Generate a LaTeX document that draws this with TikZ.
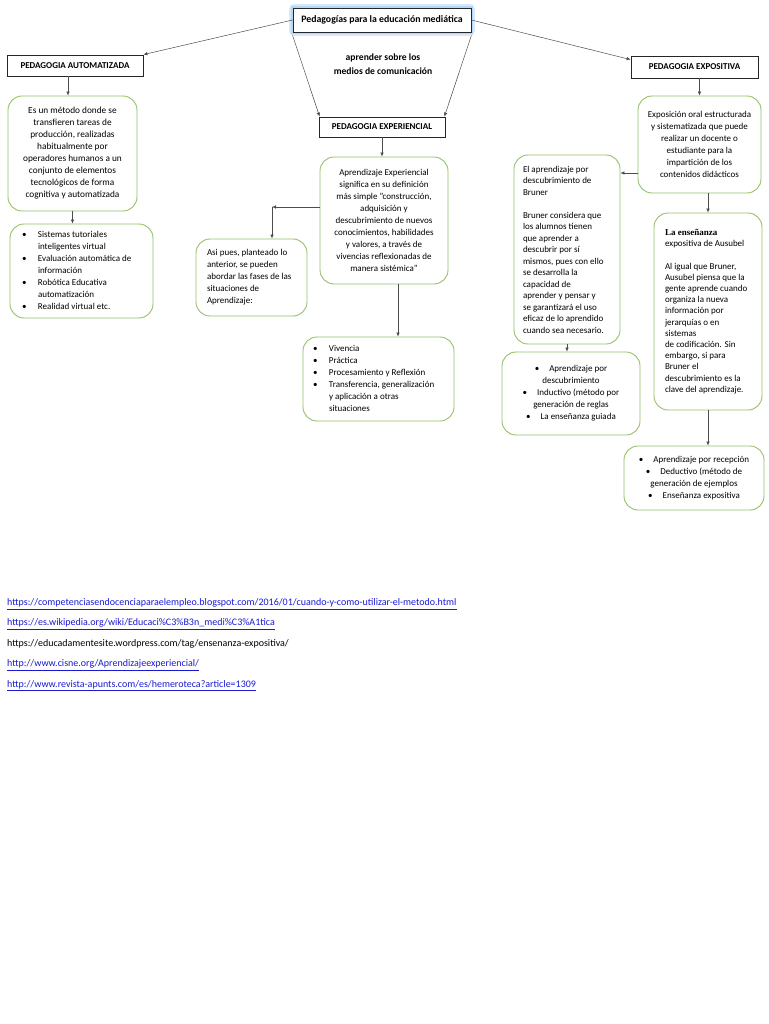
\documentclass[tikz,border=0pt]{standalone}
\usepackage{fontspec}
\setmainfont{Carlito}
\newfontfamily\serifb{Liberation Serif}
\usetikzlibrary{arrows.meta,backgrounds}
\definecolor{gborder}{RGB}{150,192,105}
\definecolor{linkblue}{RGB}{25,25,210}
\definecolor{glow}{RGB}{150,200,245}
\begin{document}
\begin{tikzpicture}[x=1pt,y=-1pt,
  gbox/.style={draw=gborder, line width=0.9pt, rounded corners=14pt, fill=white, inner sep=0pt, font=\fontsize{9}{12}\selectfont},
  hbox/.style={draw=black!85, line width=0.8pt, fill=white, inner sep=0pt, font=\bfseries\fontsize{9}{11}\selectfont},
  arr/.style={draw=black!70, line width=0.5pt, -{Latex[length=4pt,width=3.5pt]}},
  link/.style={anchor=west, inner sep=0pt, font=\fontsize{10}{12}\selectfont}]
\useasboundingbox (0,0) rectangle (768,1024);
% header boxes
\node[hbox, minimum width=178pt, minimum height=24pt, font=\bfseries\fontsize{9.8}{11}\selectfont] (title) at (382,20) {Pedagogías para la educación mediática};
\begin{scope}[on background layer]
  \draw[glow!40, line width=7pt, rounded corners=2pt] (title.south west) rectangle (title.north east);
  \draw[glow!70, line width=3.5pt] (title.south west) rectangle (title.north east);
\end{scope}
\node[inner sep=0pt, align=center, font=\bfseries\fontsize{9.6}{14}\selectfont] (sub) at (383,64) {aprender sobre los\\medios de comunicación};
\node[hbox, minimum width=136pt, minimum height=21pt] (auto) at (75,65.5) {PEDAGOGIA AUTOMATIZADA};
\node[hbox, minimum width=126pt, minimum height=20pt] (exper) at (382,127) {PEDAGOGIA EXPERIENCIAL};
\node[hbox, minimum width=127pt, minimum height=22pt] (expo) at (694.5,67) {PEDAGOGIA EXPOSITIVA};
% left column
\node[gbox, minimum width=129pt, minimum height=115pt, align=center, font=\fontsize{9.3}{12}\selectfont] (b1) at (72.5,153.5)
 {Es un método donde se\\transfieren tareas de\\producción, realizadas\\habitualmente por\\operadores humanos a un\\conjunto de elementos\\tecnológicos de forma\\cognitiva y automatizada};
\node[gbox, minimum width=143pt, minimum height=94pt, inner xsep=12pt, text width=119pt, align=flush left] (b2) at (81.5,271)
 {\begin{tabular}{@{}p{16pt}@{}l@{}}
 • & Sistemas tutoriales\\ & inteligentes virtual\\
 • & Evaluación automática de\\ & información\\
 • & Robótica Educativa\\ & automatización\\
 • & Realidad virtual etc.
 \end{tabular}};
% middle column
\node[gbox, minimum width=128pt, minimum height=127pt, align=center] (e1) at (384,220.5)
 {Aprendizaje Experiencial\\significa en su definición\\más simple "construcción,\\adquisición y\\descubrimiento de nuevos\\conocimientos, habilidades\\y valores, a través de\\vivencias reflexionadas de\\manera sistémica"};
\node[gbox, minimum width=111pt, minimum height=77pt, inner xsep=11pt, text width=89pt, align=flush left] (e2) at (251.5,277.5)
 {Asi pues, planteado lo\\anterior, se pueden\\abordar las fases de las\\situaciones de\\Aprendizaje:};
\node[gbox, minimum width=151pt, minimum height=84pt, inner xsep=10pt, text width=131pt, align=flush left] (e3) at (378.5,379)
 {\begin{tabular}{@{}p{16pt}@{}l@{}}
 • & Vivencia\\
 • & Práctica\\
 • & Procesamiento y Reflexión\\
 • & Transferencia, generalización\\ & y aplicación a otras\\ & situaciones
 \end{tabular}};
% right columns
\node[gbox, minimum width=123pt, minimum height=97pt, align=center] (x1) at (699.5,144.5)
 {Exposición oral estructurada\\y sistematizada que puede\\realizar un docente o\\estudiante para la\\impartición de los\\contenidos didácticos};
\node[gbox, minimum width=106pt, minimum height=189pt, inner xsep=9pt, text width=88pt, align=flush left, font=\fontsize{9}{11.5}\selectfont] (x2) at (567,249.5)
 {El aprendizaje por\\descubrimiento de\\Bruner\\[11.5pt]Bruner considera que\\los alumnos tienen\\que aprender a\\descubrir por sí\\mismos, pues con ello\\se desarrolla la\\capacidad de\\aprender y pensar y\\se garantizará el uso\\eficaz de lo aprendido\\cuando sea necesario.};
\node[gbox, minimum width=138pt, minimum height=83pt, align=center] (x3) at (571,393.5)
 {•\hspace{10pt}Aprendizaje por\\descubrimiento\\•\hspace{10pt}Inductivo (método por\\generación de reglas\\•\hspace{10pt}La enseñanza guiada};
\node[gbox, minimum width=108pt, minimum height=197pt, inner xsep=11pt, text width=86pt, align=flush left, font=\fontsize{9}{11.2}\selectfont] (x4) at (708,311.5)
 {{\serifb\bfseries La enseñanza}\\expositiva de Ausubel\\[11.2pt]Al igual que Bruner,\\Ausubel piensa que la\\gente aprende cuando\\organiza la nueva\\información por\\jerarquías o en\\sistemas\\de codificación. Sin\\embargo, si para\\Bruner el\\descubrimiento es la\\clave del aprendizaje.};
\node[gbox, minimum width=140pt, minimum height=64pt, align=center] (x5) at (694,478)
 {•\hspace{10pt}Aprendizaje por recepción\\•\hspace{10pt}Deductivo (método de\\generación de ejemplos\\•\hspace{10pt}Enseñanza expositiva};
% connectors
\coordinate (c1) at (272,207);
\coordinate (ya) at (0,173);
\draw[arr] (title.west) -- (auto.north east);
\draw[arr] (title.east) -- ([yshift=-4pt]expo.north west);
\draw[arr] ([yshift=-3pt]title.south west) -- ([xshift=1pt]exper.north west);
\draw[arr] ([yshift=-3pt]title.south east) -- ([xshift=-1pt]exper.north east);
\draw[arr] ([xshift=-7pt]auto.south) -- ([xshift=-7pt]auto.south |- b1.north);
\draw[arr] (b1.south) -- (b1.south |- b2.north);
\draw[arr] (exper.south) -- (exper.south |- e1.north);
\draw[arr] (e1.west |- c1) -- (c1);
\draw[arr] (c1) -- (c1 |- e2.north);
\draw[arr] ([xshift=14pt]e1.south) -- ([xshift=14pt]e1.south |- e3.north);
\draw[arr] (x1.north |- expo.south) -- (x1.north);
\draw[arr] (x4.north |- x1.south) -- (x4.north);
\draw[arr] (x1.west |- ya) -- (x2.east |- ya);
\draw[arr] (x2.south) -- (x2.south |- x3.north);
\draw[arr] (x4.south) -- (x4.south |- x5.north);
% links
\node[link, text=linkblue] (l1) at (7,604) {\underline{https://competenciasendocenciaparaelempleo.blogspot.com/2016/01/cuando-y-como-utilizar-el-metodo.html}};
\node[link, text=linkblue] (l2) at (7,624) {\underline{https://es.wikipedia.org/wiki/Educaci\%C3\%B3n\_medi\%C3\%A1tica}};
\node[link] (l3) at (7,644) {https://educadamentesite.wordpress.com/tag/ensenanza-expositiva/};
\node[link, text=linkblue] (l4) at (7,665) {\underline{http://www.cisne.org/Aprendizajeexperiencial/}};
\node[link, text=linkblue] (l5) at (7,686) {\underline{http://www.revista-apunts.com/es/hemeroteca?article=1309}};
\end{tikzpicture}
\end{document}
